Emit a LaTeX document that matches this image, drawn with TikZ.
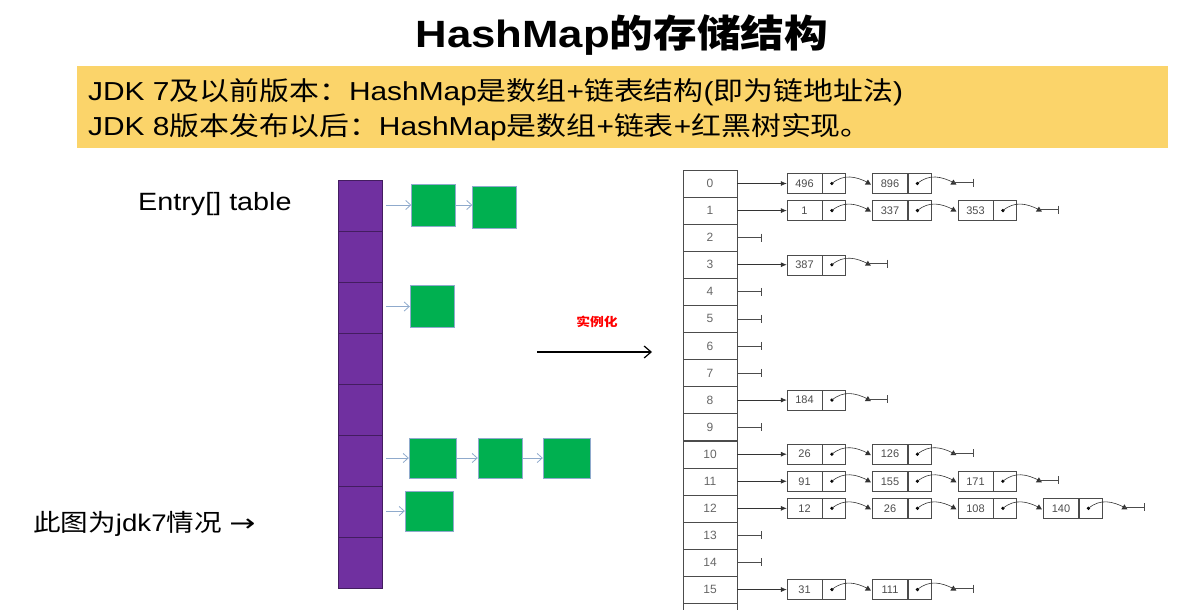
\documentclass[tikz,border=0pt]{standalone}
\usepackage{fontspec}
\setmainfont{Liberation Sans}[FakeStretch=1.15]
\newfontfamily\cjk{Noto Sans CJK SC}[FakeStretch=1.15]
\newfontfamily\plain{Liberation Sans}
\newcommand{\zh}[1]{{\cjk #1}}
\usetikzlibrary{arrows.meta}
\definecolor{hdr}{HTML}{FBD46A}
\definecolor{purp}{HTML}{7030A0}
\definecolor{grn}{HTML}{00B050}
\definecolor{lnk}{HTML}{8FAACC}
\tikzset{
  cell/.style={draw=purp!60!black,fill=purp,minimum width=44pt,minimum height=51pt,inner sep=0,line width=0.8pt},
  gbox/.style={draw=lnk,fill=grn,minimum width=44pt,minimum height=42pt,inner sep=0},
  garr/.style={draw=lnk,line width=0.8pt,-{Straight Barb[length=5pt,width=9pt]}},
  trow/.style={draw=black!70,minimum width=54pt,minimum height=27pt,inner sep=0,font=\plain\fontsize{12}{12}\selectfont\color{black!60}},
  vcell/.style={draw=black!70,minimum width=35pt,minimum height=20pt,inner sep=0,font=\plain\fontsize{11}{11}\selectfont\color{black!70}},
  pcell/.style={draw=black!70,minimum width=23pt,minimum height=20pt,inner sep=0},
  tarr/.style={draw=black!80,line width=0.7pt,-{Latex[length=6pt,width=5pt]}},
  earr/.style={draw=black!70,line width=0.7pt,-{Bar[width=8pt]}},
}
\begin{document}
\begin{tikzpicture}[x=1pt,y=-1pt]
\useasboundingbox (0,0) rectangle (1183,610);
\node (title) at (622,35) {\fontsize{38}{38}\selectfont\bfseries HashMap\zh{的存储结构}};
\node[fill=hdr,minimum width=1091pt,minimum height=82pt,anchor=north west] (hdr) at (77,66) {};
\node[anchor=west,inner sep=0] (l1) at (88,92) {\fontsize{26}{26}\selectfont JDK 7\zh{及以前版本：}HashMap\zh{是数组}+\zh{链表结构}(\zh{即为链地址法})};
\node[anchor=west,inner sep=0] (l2) at (88,127) {\fontsize{26}{26}\selectfont JDK 8\zh{版本发布以后：}HashMap\zh{是数组}+\zh{链表}+\zh{红黑树实现。}};
\node[anchor=west,inner sep=0] (et) at (138,204) {\fontsize{25}{25}\selectfont Entry[] table};
\node[anchor=west,inner sep=0] (jdk) at (33,524) {\fontsize{24}{24}\selectfont \zh{此图为}jdk7\zh{情况} {\fontspec{DejaVu Sans}[FakeStretch=1.3]→}};
% purple column
\foreach \i in {0,...,7} \node[cell] (c\i) at (360,{205.5+51*\i}) {};
% green boxes
\node[gbox] (g00) at (433.5,205) {};
\node[gbox] (g01) at (494.5,207) {};
\node[gbox] (g20) at (432,306.5) {};
\node[gbox,minimum width=47pt,minimum height=40pt] (g50) at (432.5,458) {};
\node[gbox,minimum height=40pt] (g51) at (500,458) {};
\node[gbox,minimum width=47pt,minimum height=40pt] (g52) at (566.5,458) {};
\node[gbox,minimum width=48pt,minimum height=40pt] (g60) at (429,511) {};
\path (c0.east|-g00) ++(4,0) coordinate (s0);
\draw[garr] (s0) -- (g00.west);
\draw[garr] (g00.east) -- (g01.west|-g00);
\path (c2.east|-g20) ++(4,0) coordinate (s2);
\draw[garr] (s2) -- (g20.west);
\path (c5.east|-g50) ++(4,0) coordinate (s5);
\draw[garr] (s5) -- (g50.west);
\draw[garr] (g50.east) -- (g51.west);
\draw[garr] (g51.east) -- (g52.west);
\path (c6.east|-g60) ++(4,0) coordinate (s6);
\draw[garr] (s6) -- (g60.west);
% middle
\node[text=red,inner sep=0] (inst) at (597,322) {\fontsize{12}{12}\selectfont\cjk\bfseries 实例化};
\coordinate (m1) at (537,352); \coordinate (m2) at (652,352);
\draw[line width=1.2pt,-{Straight Barb[length=7pt,width=12pt]}] (m1) -- (m2);
% table
\foreach \i in {0,...,15} \node[trow] (t\i) at (710,{183.5+27.07*\i}) {\i};
\draw[draw=black!70] (t15.south west) -- ++(0,10) coordinate (tb1);
\draw[draw=black!70] (t15.south east) -- ++(0,10) coordinate (tb2);
% chains
\foreach \r/\vals in {0/{496,896},1/{1,337,353},3/{387},8/{184},10/{26,126},11/{91,155,171},12/{12,26,108,140},15/{31,111}}{
  \foreach \v [count=\k from 0] in \vals {
    \node[vcell] (v\r-\k) at ({804.5+85.5*\k},{183.5+27.07*\r}) {\v};
    \node[pcell,anchor=west] (p\r-\k) at (v\r-\k.east) {};
    \fill (p\r-\k.center) ++(-2,0) circle (1.8pt);
    \draw[black!80,line width=0.6pt] (p\r-\k.center) ++(-2,0) .. controls +(12,-10) and +(-12,-6) .. ++(36,-1) coordinate (q\r-\k);
  }
  \draw[tarr] (t\r.east) -- (v\r-0.west);
}
\foreach \r/\n in {0/1,1/2,3/0,8/0,10/1,11/2,12/3,15/1}{
  \fill[black!80] (q\r-\n) ++(0,-3) -- ++(3,5) -- ++(-6,0) -- cycle;
  \draw[earr] (q\r-\n) -- ++(20,0) coordinate (z\r);
}
\foreach \r/\n in {0/0,1/0,1/1,10/0,11/0,11/1,12/0,12/1,12/2,15/0}{
  \fill[black!80] (q\r-\n) ++(0,-3) -- ++(3,5) -- ++(-6,0) -- cycle;
}
\foreach \r in {2,4,5,6,7,9,13,14} \draw[earr] (t\r.east) -- ++(24,0) coordinate (e\r);
\end{tikzpicture}
\end{document}
